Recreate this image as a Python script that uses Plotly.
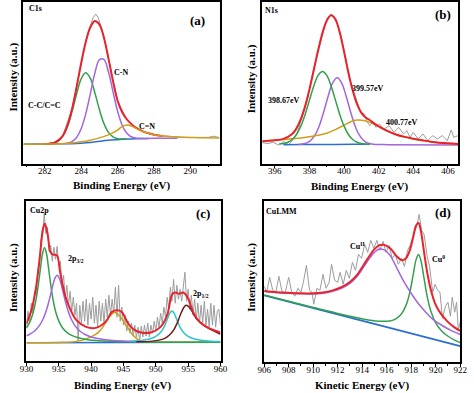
import plotly.graph_objects as go

W, H = 474, 393
FONT = "Liberation Serif"

# ---------------- Panel (a) C1s ----------------
A_GRAY_X = [280.83, 281.5, 282.0, 282.5, 283.0, 283.5, 284.0, 284.25, 284.5, 284.65, 284.8, 284.95, 285.25, 285.5,
            286.0, 286.5, 287.0, 287.5, 288.0, 288.5, 289.0, 289.5, 290.0, 290.5, 291.0, 291.3, 291.61]
A_GRAY_Y = [19.4, 19.7, 19.6, 20.9, 28.5, 55.0, 101.0, 122.0, 138.0, 146.0, 150.0, 146.0, 127.0, 106.0,
            63.5, 44.5, 36.0, 31.5, 29.2, 27.8, 27.0, 26.5, 26.2, 26.0, 26.3, 27.5, 26.0]
A_BG_X = [280.83, 283.0, 283.5, 284.0, 284.5, 285.0, 285.5, 286.0, 286.5, 287.0, 287.7]
A_BG_Y = [19.5, 19.8, 20.0, 20.5, 21.2, 22.3, 23.3, 24.0, 24.6, 25.0, 25.2]
A_ORANGE_X = [280.83, 282.0, 283.0, 283.5, 284.0, 284.5, 285.0, 285.5, 286.0, 286.2, 286.5, 286.8, 287.1, 287.5,
              288.0, 288.5, 289.0, 289.5, 290.5, 291.61]
A_ORANGE_Y = [19.5, 19.6, 20.0, 20.6, 21.8, 23.5, 25.8, 28.8, 33.5, 36.5, 38.7, 37.5, 34.5, 31.5,
              29.0, 27.6, 26.8, 26.3, 26.0, 25.7]
A_GREEN_X = [282.0, 282.25, 282.5, 282.75, 283.0, 283.25, 283.5, 283.75, 284.0, 284.25, 284.5, 284.75, 285.0,
             285.25, 285.5, 285.75, 286.0, 286.25, 286.5]
A_GREEN_Y = [19.7, 20.0, 20.7, 22.9, 27.8, 37.4, 52.1, 69.8, 84.9, 91.0, 85.6, 71.3, 54.4,
             40.3, 31.3, 26.8, 25.0, 24.6, 24.6]
A_PURPLE_X = [283.0, 283.25, 283.5, 283.75, 284.0, 284.25, 284.5, 284.75, 285.0, 285.25, 285.5, 285.75, 286.0,
              286.25, 286.5, 286.75, 287.0, 287.25, 287.5, 288.5, 289.3]
A_PURPLE_Y = [20.0, 20.5, 22.1, 26.2, 34.9, 49.6, 69.7, 90.4, 104.0, 104.5, 92.0, 72.2, 52.8,
              38.7, 30.6, 26.9, 25.6, 25.3, 25.2, 25.4, 25.5]
A_RED_X = [282.0, 282.25, 282.5, 282.75, 283.0, 283.25, 283.5, 283.75, 284.0, 284.25, 284.5, 284.75, 285.0,
           285.25, 285.5, 285.75, 286.0, 286.25, 286.5, 286.75, 287.0, 287.25, 287.5, 287.75, 288.0, 288.5]
A_RED_Y = [19.7, 20.0, 20.8, 23.0, 28.2, 38.4, 54.8, 76.8, 100.6, 121.6, 136.4, 142.9, 139.6,
           126.5, 105.5, 82.7, 63.3, 51.7, 44.7, 39.8, 36.1, 33.7, 31.5, 30.2, 29.0, 27.6]

# ---------------- Panel (b) N1s ----------------
B_GRAY_X = [395.27, 395.6, 395.9, 396.2, 396.5, 396.8, 397.0, 397.3, 397.6, 397.9,
            398.2, 398.5, 398.8, 399.0, 399.25, 399.5, 399.8, 400.1, 400.4, 400.6,
            400.75, 400.95, 401.15, 401.3, 401.48, 401.66, 401.85, 402.04, 402.32, 402.6,
            402.88, 403.16, 403.44, 403.63, 403.81, 404.0, 404.28, 404.56, 404.84, 405.12,
            405.4, 405.68, 405.97, 406.19, 406.34, 406.58]
B_GRAY_Y = [21.0, 20.0, 21.5, 18.5, 22.0, 19.0, 23.0, 31.0, 48.0, 65.0,
            92.0, 113.0, 134.0, 145.0, 150.0, 146.0, 130.0, 104.0, 80.0, 70.0,
            63.0, 52.0, 50.0, 43.0, 38.0, 41.7, 36.3, 39.7, 34.7, 38.0,
            31.3, 36.3, 29.7, 33.0, 26.3, 31.3, 24.7, 29.7, 23.0, 28.0,
            24.7, 28.0, 23.0, 33.7, 26.3, 28.0]
B_BG_X = [396.5, 397.5, 399.0, 400.5, 401.5]
B_BG_Y = [19.0, 19.1, 19.2, 19.3, 19.4]
B_ORANGE_X = [395.27, 396.0, 397.0, 398.0, 398.5, 399.0, 399.5, 400.0, 400.5, 400.8, 401.2, 401.7, 402.2,
              402.7, 403.2, 403.7, 404.3, 405.0, 405.8, 406.6]
B_ORANGE_Y = [22.5, 23.3, 24.8, 27.0, 28.5, 30.5, 34.0, 38.5, 42.7, 43.7, 43.0, 40.0, 35.5,
              31.0, 28.0, 26.0, 24.0, 22.0, 20.5, 19.7]
B_GREEN_X = [396.25, 396.5, 396.75, 397.0, 397.25, 397.5, 397.75, 398.0, 398.25, 398.5, 398.75,
             399.0, 399.25, 399.5, 399.75, 400.0, 400.25, 400.5, 400.75, 401.0, 401.25, 401.5]
B_GREEN_Y = [19.6, 20.1, 21.4, 24.1, 29.2, 37.5, 49.3, 63.6, 77.8, 88.4, 92.3,
             88.4, 77.8, 63.6, 49.3, 37.5, 29.2, 24.1, 21.4, 20.1, 19.6, 19.3]
B_PURPLE_X = [397.35, 397.6, 397.85, 398.1, 398.35, 398.6, 398.85, 399.1, 399.35, 399.6, 399.85,
              400.1, 400.35, 400.6, 400.85, 401.1, 401.35, 401.6, 401.85, 402.5, 406.6]
B_PURPLE_Y = [19.2, 19.6, 20.8, 23.7, 29.5, 39.5, 53.4, 68.8, 81.2, 86.0, 81.2,
              68.8, 53.4, 39.5, 29.5, 23.7, 20.8, 19.6, 19.2, 19.0, 18.6]
B_RED_X = [395.27, 396.0, 396.5, 397.0, 397.25, 397.5, 397.75, 398.0, 398.25, 398.5,
           398.75, 399.0, 399.25, 399.5, 399.75, 400.0, 400.25, 400.5, 400.75, 401.0,
           401.25, 401.5, 401.75, 402.0, 402.5, 403.0, 403.5, 404.0, 404.5, 405.0,
           405.5, 406.0, 406.6]
B_RED_Y = [22.5, 23.4, 24.8, 29.6, 35.3, 44.5, 57.6, 74.5, 93.9, 113.6,
           131.0, 143.3, 148.7, 144.5, 131.4, 112.1, 91.1, 73.2, 59.5, 50.9,
           46.2, 43.4, 40.1, 37.4, 32.8, 29.2, 26.8, 25.0, 23.5, 22.0,
           21.0, 20.3, 19.7]

# ---------------- Panel (c) Cu2p ----------------
C_GRAY_X0 = 930.0
C_GRAY_DX = 0.25
C_GRAY_Y = [33, 50, 40, 58, 48, 70, 66, 92, 96, 122, 124, 148, 128, 134, 110, 116, 100, 114, 102, 115,
            96, 100, 76, 86, 62, 76, 55, 70, 50, 64, 46, 58, 20, 56, 38, 60, 40, 62, 36, 58,
            42, 64, 38, 56, 34, 60, 40, 58, 38, 62, 44, 66, 46, 62, 48, 74, 44, 76, 40, 54,
            36, 46, 30, 40, 28, 38, 25, 36, 24, 34, 20, 35, 24, 36, 25, 38, 24, 36, 28, 40,
            30, 44, 34, 48, 38, 54, 44, 64, 52, 74, 60, 82, 58, 76, 62, 72, 60, 78, 89, 60,
            72, 52, 66, 46, 62, 42, 58, 38, 56, 38, 60, 36, 52, 34, 58, 36, 56, 34, 50, 52, 36]
C_BG_X = [930.0, 960.0]
C_BG_Y = [18.3, 19.0]
C_GREEN_X = [930.0, 930.5, 931.0, 931.5, 931.9, 932.2, 932.5, 932.8, 933.1, 933.4, 933.7, 934.1, 934.6,
             935.1, 935.6, 936.3, 937.0, 938.0, 939.5, 941.0, 943.0, 946.0, 950.0, 955.0, 960.0]
C_GREEN_Y = [33.2, 38.8, 47.7, 62.2, 79.3, 94.5, 107.9, 113.5, 107.9, 94.5, 79.3, 62.2, 47.7,
             38.8, 33.2, 28.5, 25.7, 23.3, 21.4, 20.5, 19.8, 19.3, 19.0, 19.0, 19.0]
C_PURPLE_X = [930.0, 930.5, 931.0, 931.5, 932.0, 932.5, 933.0, 933.5, 934.0, 934.4, 934.75, 935.1, 935.5,
              936.0, 936.5, 937.0, 937.5, 938.0, 938.5, 939.0, 940.0, 941.5, 943.0, 945.0, 948.0]
C_PURPLE_Y = [25.4, 26.9, 28.9, 31.7, 35.6, 41.2, 49.2, 60.4, 73.8, 82.9, 86.0, 82.9, 73.8,
              60.4, 49.2, 41.2, 35.6, 31.7, 28.9, 26.9, 24.2, 22.1, 20.9, 20.1, 19.5]
C_ORANGE_X = [930.0, 935.0, 937.5, 938.7, 939.7, 940.5, 941.2, 941.8, 942.4, 942.9, 943.6, 944.2, 944.74,
              945.2, 945.74, 946.2, 946.74, 947.3, 947.8, 948.5, 950.0, 960.0]
C_ORANGE_Y = [18.4, 18.7, 19.5, 21.0, 23.5, 26.0, 29.3, 34.0, 40.0, 45.0, 49.0, 46.5, 42.5,
              37.5, 32.5, 28.0, 24.3, 21.3, 19.6, 19.0, 18.8, 18.9]
C_CYAN_X = [946.0, 948.0, 949.0, 950.0, 950.75, 951.3, 951.8, 952.2, 952.5, 952.8, 953.2, 953.7, 954.25,
            955.0, 956.0, 957.0, 958.5, 960.0]
C_CYAN_Y = [19.8, 20.9, 22.1, 24.7, 28.9, 34.6, 42.3, 48.4, 50.3, 48.4, 42.3, 34.6, 28.9,
            24.7, 22.1, 20.9, 20.0, 19.6]
C_BROWN_X = [947.0, 949.5, 950.5, 951.3, 951.76, 952.3, 952.75, 953.3, 953.8, 954.3, 954.66, 955.0, 955.5,
             956.26, 957.0, 957.77, 958.7, 959.77, 960.0]
C_BROWN_Y = [19.3, 20.0, 21.0, 22.5, 24.3, 27.5, 31.0, 38.0, 46.5, 53.5, 56.0, 55.0, 51.0,
             42.7, 38.0, 34.3, 31.0, 27.7, 27.2]
C_RED_X = [930.0, 930.7, 931.46, 932.1, 932.56, 932.86, 933.31, 933.71, 934.1, 934.71,
           935.21, 935.97, 936.72, 937.72, 939.22, 940.72, 942.23, 943.23, 943.98, 944.74,
           945.74, 946.74, 947.74, 949.25, 950.75, 951.76, 952.51, 953.0, 953.6, 954.26,
           955.0, 955.76, 956.77, 958.27, 959.77, 960.0]
C_RED_Y = [37.7, 49.3, 72.7, 106.0, 132.7, 137.7, 126.0, 109.3, 106.7, 106.0,
           89.3, 66.0, 52.7, 41.0, 34.3, 33.3, 39.3, 49.3, 51.0, 49.3,
           37.7, 31.0, 28.7, 28.7, 34.3, 46.0, 66.7, 68.7, 67.5, 68.7,
           62.7, 49.3, 39.3, 32.7, 29.3, 29.0]

# ---------------- Panel (d) CuLMM ----------------
D_GRAY_X = [906.0, 906.2, 906.45, 906.7, 906.95, 907.2, 907.45, 907.7, 908.0, 908.25,
            908.5, 908.75, 909.0, 909.2, 909.45, 909.7, 909.9, 910.05, 910.3, 910.55,
            910.8, 911.05, 911.3, 911.5, 911.75, 912.0, 912.2, 912.45, 912.7, 912.95,
            913.2, 913.45, 913.7, 913.95, 914.2, 914.45, 914.7, 914.95, 915.2, 915.45,
            915.7, 915.95, 916.2, 916.45, 916.7, 916.95, 917.2, 917.45, 917.7, 917.95,
            918.2, 918.45, 918.65, 918.85, 919.05, 919.3, 919.5, 919.75, 919.95, 920.15,
            920.35, 920.55, 920.8, 921.0, 921.2, 921.35, 921.55, 921.7, 921.85, 922.0]
D_GRAY_Y = [76, 70, 85, 72, 70, 86, 71, 69, 85, 70,
            66, 74, 70, 80, 97, 72, 70, 58, 74, 72,
            88, 74, 80, 98, 82, 80, 90, 78, 92, 84,
            100, 92, 108, 104, 118, 110, 122, 114, 122, 112,
            121, 110, 117, 104, 108, 98, 104, 96, 112, 118,
            128, 136, 148, 132, 128, 106, 96, 70, 78, 72,
            70, 44, 56, 60, 46, 65, 50, 60, 32, 40]
D_BG_X = [906.0, 922.0]
D_BG_Y = [67.0, 16.0]
D_GREEN_X = [906.0, 908.0, 910.0, 912.0, 913.5, 914.5, 915.5, 916.25, 916.75, 917.2, 917.6, 917.9,
             918.15, 918.4, 918.6, 918.8, 919.05, 919.3, 919.6, 920.0, 920.45, 920.95, 921.5, 922.0]
D_GREEN_Y = [67.3, 61.0, 54.8, 48.8, 44.7, 42.3, 40.9, 41.3, 43.4, 48.2, 57.6, 70.7,
             86.6, 102.7, 107.9, 101.5, 83.8, 66.2, 51.3, 39.3, 31.7, 26.4, 22.3, 19.5]
D_PURPLE_X = [906.0, 907.0, 908.0, 909.0, 910.0, 910.8, 911.6, 912.3, 913.0, 913.6, 914.1, 914.6, 915.0,
              915.4, 915.8, 916.3, 916.8, 917.3, 917.84, 918.5, 919.17, 919.8, 920.49, 921.2, 921.82, 922.0]
D_PURPLE_Y = [71.0, 69.8, 69.0, 68.5, 68.3, 69.0, 71.0, 74.0, 79.0, 86.0, 95.0, 104.0, 110.0,
              113.3, 112.5, 106.5, 95.0, 83.0, 72.0, 60.0, 50.3, 42.5, 37.0, 32.0, 28.7, 27.8]
D_RED_X = [906.0, 907.0, 908.0, 909.0, 910.0, 910.8, 911.6, 912.3, 913.0, 913.6,
           914.1, 914.6, 915.0, 915.4, 915.8, 916.3, 916.8, 917.1, 917.35, 917.6,
           917.9, 918.15, 918.4, 918.6, 918.8, 919.05, 919.3, 919.6, 920.0, 920.45,
           920.95, 921.5, 922.0]
D_RED_Y = [71.3, 70.1, 69.4, 68.9, 68.9, 69.7, 71.9, 75.1, 80.3, 87.6,
           97.0, 106.6, 113.2, 117.2, 117.5, 113.8, 106.2, 103.0, 102.2, 104.5,
           112.5, 124.7, 137.0, 139.5, 130.8, 110.3, 90.3, 72.6, 57.4, 48.0,
           40.8, 35.0, 31.3]

# ---------------- text ----------------
X_TITLE_BE = "Binding Energy (eV)"
X_TITLE_KE = "Kinetic Energy (eV)"
Y_TITLE = "Intensity (a.u.)"

GRAY = "#9c9c9c"
RED = "#e8232b"
GREEN = "#33a04d"
PURPLE = "#a266dd"
ORANGE = "#cf9f18"
BLUE = "#2d6fd1"
CYAN = "#2cc5c9"
BROWN = "#6d1c1c"

fig = go.Figure()


def add(xs, ys, color, width, sfx, shape="spline"):
    fig.add_trace(go.Scatter(x=xs, y=ys, mode="lines",
                             line=dict(color=color, width=width, shape=shape),
                             xaxis="x" + sfx, yaxis="y" + sfx,
                             showlegend=False, hoverinfo="skip"))


# panel a
add(A_GRAY_X, A_GRAY_Y, GRAY, 1.0, "", "linear")
add(A_BG_X, A_BG_Y, BLUE, 1.5, "")
add(A_GREEN_X, A_GREEN_Y, GREEN, 1.5, "")
add(A_PURPLE_X, A_PURPLE_Y, PURPLE, 1.5, "")
add(A_RED_X, A_RED_Y, RED, 2.0, "")
add(A_ORANGE_X, A_ORANGE_Y, ORANGE, 1.5, "")

# panel b
add(B_GRAY_X, B_GRAY_Y, GRAY, 1.0, "2", "linear")
add(B_BG_X, B_BG_Y, BLUE, 1.5, "2")
add(B_PURPLE_X, B_PURPLE_Y, PURPLE, 1.5, "2")
add(B_ORANGE_X, B_ORANGE_Y, ORANGE, 1.5, "2")
add(B_GREEN_X, B_GREEN_Y, GREEN, 1.5, "2")
add(B_RED_X, B_RED_Y, RED, 2.0, "2")

# panel c
fig.add_trace(go.Scatter(y=C_GRAY_Y, x0=C_GRAY_X0, dx=C_GRAY_DX, mode="lines",
                         line=dict(color=GRAY, width=1.0), xaxis="x3", yaxis="y3",
                         showlegend=False, hoverinfo="skip"))
add(C_BG_X, C_BG_Y, BLUE, 1.5, "3", "linear")
add(C_ORANGE_X, C_ORANGE_Y, ORANGE, 1.5, "3")
add(C_GREEN_X, C_GREEN_Y, GREEN, 1.5, "3")
add(C_PURPLE_X, C_PURPLE_Y, PURPLE, 1.5, "3")
add(C_CYAN_X, C_CYAN_Y, CYAN, 1.5, "3")
add(C_BROWN_X, C_BROWN_Y, BROWN, 1.5, "3")
add(C_RED_X, C_RED_Y, RED, 2.0, "3")

# panel d
add(D_GRAY_X, D_GRAY_Y, GRAY, 1.0, "4", "linear")
add(D_BG_X, D_BG_Y, BLUE, 1.8, "4", "linear")
add(D_GREEN_X, D_GREEN_Y, GREEN, 1.5, "4")
add(D_PURPLE_X, D_PURPLE_Y, PURPLE, 1.5, "4")
add(D_RED_X, D_RED_Y, RED, 2.0, "4")

# ---------------- axes ----------------
panels = [
    dict(sfx="", px=(17, 219), py=(1, 163), xr=[280.83, 291.61], yr=[0, 162], t0=282, dt=2, mdt=1),
    dict(sfx="2", px=(263, 465), py=(1, 163), xr=[395.27, 406.6], yr=[0, 162], t0=396, dt=2, mdt=1),
    dict(sfx="3", px=(20, 220), py=(201, 361), xr=[930, 960], yr=[0, 160], t0=930, dt=5, mdt=None),
    dict(sfx="4", px=(265, 467), py=(201, 362), xr=[906, 922], yr=[0, 161], t0=906, dt=2, mdt=1),
]

layout = dict(width=W, height=H, autosize=False, margin=dict(l=0, r=0, t=0, b=0),
              paper_bgcolor="white", plot_bgcolor="white", showlegend=False)

for p in panels:
    xa = dict(domain=[p["px"][0] / W, p["px"][1] / W], range=p["xr"], anchor="y" + p["sfx"],
              showline=True, linecolor="black", linewidth=1.5, mirror=True,
              ticks="outside", ticklen=3, tickwidth=1, tickcolor="black",
              tick0=p["t0"], dtick=p["dt"], showgrid=False, zeroline=False,
              ticklabelstandoff=-5,
              tickfont=dict(family=FONT, size=9, color="black"))
    if p["mdt"]:
        xa["minor"] = dict(ticks="outside", ticklen=2, tickcolor="black", dtick=p["mdt"], showgrid=False)
    ya = dict(domain=[1 - p["py"][1] / H, 1 - p["py"][0] / H], range=p["yr"], anchor="x" + p["sfx"],
              showline=True, linecolor="black", linewidth=1.5, mirror=True,
              ticks="", showticklabels=False, showgrid=False, zeroline=False)
    layout["xaxis" + p["sfx"]] = xa
    layout["yaxis" + p["sfx"]] = ya

fig.update_layout(**layout)


def note(text, px, py, size, angle=0):
    fig.add_annotation(text=text, x=px / W, y=1 - py / H, xref="paper", yref="paper",
                       xanchor="center", yanchor="middle", showarrow=False, textangle=angle,
                       font=dict(family=FONT, size=size, color="black"))


# axis titles
note("<b>" + X_TITLE_BE + "</b>", 118, 185, 11)
note("<b>" + X_TITLE_BE + "</b>", 364, 186, 11)
note("<b>" + X_TITLE_BE + "</b>", 120, 385, 11)
note("<b>" + X_TITLE_KE + "</b>", 366, 385, 11)
note("<b>" + Y_TITLE + "</b>", 7, 76, 11, -90)
note("<b>" + Y_TITLE + "</b>", 252, 78, 11, -90)
note("<b>" + Y_TITLE + "</b>", 7, 277, 11, -90)
note("<b>" + Y_TITLE + "</b>", 252, 277, 11, -90)

# panel letters and species
note("<b>(a)</b>", 196, 20, 13)
note("<b>(b)</b>", 449, 14, 13)
note("<b>(c)</b>", 202, 213, 13)
note("<b>(d)</b>", 449, 212, 13)
note("<b>C1s</b>", 29, 8, 8)
note("<b>N1s</b>", 273, 10, 8)
note("<b>Cu2p</b>", 33, 210, 8)
note("<b>CuLMM</b>", 283, 211, 8)

# peak labels
note("<b>C-N</b>", 117, 72, 8)
note("<b>C-C/C=C</b>", 39, 105, 8)
note("<b>C=N</b>", 144, 126, 8)
note("<b>398.67eV</b>", 285, 100, 8)
note("<b>399.57eV</b>", 372, 88, 8)
note("<b>400.77eV</b>", 407, 122, 8)
note("<b>2p<sub>3/2</sub></b>", 71, 259, 8)
note("<b>2p<sub>1/2</sub></b>", 200, 294, 8)
note("<b>Cu<sup>II</sup></b>", 361, 246, 8)
note("<b>Cu<sup>0</sup></b>", 445, 259, 8)

fig.write_html("out.html", config={"displayModeBar": False},
               post_script="document.body.style.margin='0';document.body.style.padding='0';")
